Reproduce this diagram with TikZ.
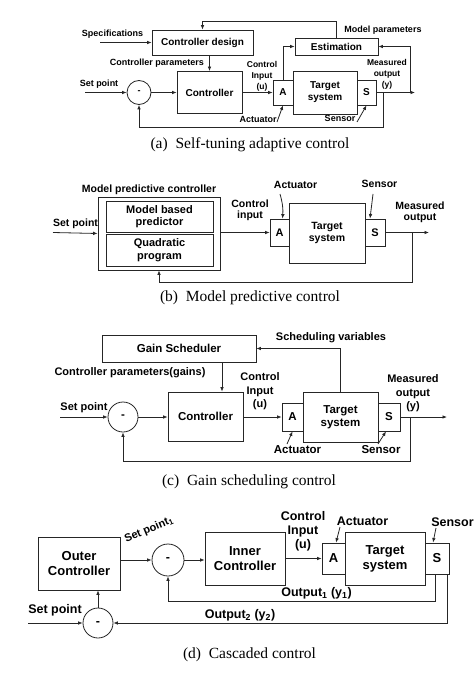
\documentclass[tikz,border=0pt]{standalone}
\usepackage{fontspec}
\setmainfont{Liberation Serif}
\newfontfamily\lab{Liberation Sans}
\usetikzlibrary{arrows.meta}
\begin{document}
\begin{tikzpicture}[x=1pt,y=-1pt, line width=0.8pt, draw=black!85,
  >={Latex[length=4.5pt,width=3.6pt]},
  box/.style={draw, rectangle, inner sep=0pt, align=center},
  sumc/.style={draw, circle, inner sep=0pt},
  lbl/.style={inner sep=0pt, align=center},
  captext/.style={inner sep=0pt, font=\fontsize{15.5}{18}\selectfont}]
\useasboundingbox[fill=white] (0,0) rectangle (474,679);

% ---------------- (a) ----------------
\begin{scope}[font=\lab\bfseries\fontsize{9}{10.5}\selectfont]
\node[box,minimum width=101pt,minimum height=25pt,font=\lab\bfseries\fontsize{10}{12}\selectfont] (cd) at (202.5,42.5) {Controller design};
\node[box,minimum width=83pt,minimum height=17pt,font=\lab\bfseries\fontsize{10}{12}\selectfont] (est) at (336.5,46.5) {Estimation};
\node[box,minimum width=65pt,minimum height=42pt,font=\lab\bfseries\fontsize{10}{12}\selectfont] (ctrl) at (209.5,92.5) {Controller};
\node[sumc,minimum size=24pt] (sum) at (139,92.5) {-};
\node[box,minimum width=20pt,minimum height=25pt,font=\lab\bfseries\fontsize{10}{12}\selectfont] (A) at (283,92.5) {A};
\node[box,minimum width=64pt,minimum height=43pt,font=\lab\bfseries\fontsize{10}{12}\selectfont] (T) at (325,92.5) {Target\\system};
\node[box,minimum width=19pt,minimum height=25pt,font=\lab\bfseries\fontsize{10}{12}\selectfont] (S) at (366.5,92.5) {S};

\node[lbl] (tspec) at (112.5,34) {Specifications};
\node[lbl] (tcp) at (157,63) {Controller parameters};
\node[lbl] (tsp) at (99,84) {Set point};
\node[lbl] (tmp) at (383,30) {Model parameters};
\node[lbl,font=\lab\bfseries\fontsize{8.5}{11}\selectfont] (tci) at (262,76) {Control\\Input\\(u)};
\node[lbl,font=\lab\bfseries\fontsize{8.5}{11}\selectfont] (tmo) at (387,74.5) {Measured\\output\\(y)};
\node[lbl] (tact) at (258,119) {Actuator};
\node[lbl] (tsen) at (340,118) {Sensor};

\coordinate (spec0) at (100,42.5);
\coordinate (sp0) at (85,92.5);
\coordinate (out) at (415,92.5);
\coordinate (ey) at (410,92.5);
\coordinate (fb) at (383,92.5);
\coordinate (aa0) at (277,122);
\coordinate (sa0) at (357,122);

\draw[->] (spec0) -- (cd.west);
\draw[->] (est.north) -- ++(0,-16) -| (cd.north);
\draw[->] (ctrl.north |- cd.south) -- (ctrl.north);
\draw[->] (sp0) -- (sum.west);
\draw[->] (sum.east) -- (ctrl.west);
\draw[->] (ctrl.east) -- (A.west);
\draw[->] (A.north) |- (est.west);
\draw[->] (S.east) -- (out);
\draw[->] (ey) |- (est.east);
\draw[->] (fb) -- ++(0,34.5) -| (sum.south);
\draw[->] (aa0) -- (A.south);
\draw[->] (sa0) -- (S.south);
\end{scope}
\node[captext] (capa) at (250,145) {(a)\ \ Self-tuning adaptive control};

% ---------------- (b) ----------------
\begin{scope}[font=\lab\bfseries\fontsize{10.5}{11.5}\selectfont]
\node[box,minimum width=122pt,minimum height=73pt] (mpc) at (159,233.5) {};
\node[box,minimum width=107pt,minimum height=31pt,font=\lab\bfseries\fontsize{11}{12.5}\selectfont] (mbp) at (159.5,216.5) {Model based\\predictor};
\node[box,minimum width=107pt,minimum height=32pt,font=\lab\bfseries\fontsize{11}{12.5}\selectfont] (qp) at (159.5,250) {Quadratic\\program};
\node[box,minimum width=19pt,minimum height=27pt,font=\lab\bfseries\fontsize{11}{12.5}\selectfont] (A2) at (279.5,232.5) {A};
\node[box,minimum width=76pt,minimum height=60pt] (T2) at (327,233) {Target\\system};
\node[box,minimum width=20pt,minimum height=27pt,font=\lab\bfseries\fontsize{11}{12.5}\selectfont] (S2) at (375,232.5) {S};

\node[lbl] (tmpc) at (149,190) {Model predictive controller};
\node[lbl] (tsp2) at (75.5,224) {Set point};
\node[lbl] (tci2) at (250,210.5) {Control\\input};
\node[lbl] (tmo2) at (420,212.5) {Measured\\output};
\node[lbl] (tact2) at (295.5,185) {Actuator};
\node[lbl] (tsen2) at (379.5,184) {Sensor};

\coordinate (sp2) at (53,232.5);
\coordinate (out2) at (429,232.5);
\coordinate (fb2) at (412,232.5);
\coordinate (aa2) at (280,194);
\coordinate (sa2) at (373,194);

\draw[->] (sp2) -- (mpc.west);
\draw[->] (mpc.east |- A2.west) -- (A2.west);
\draw[->] (S2.east) -- (out2);
\draw[->] (fb2) -- ++(0,49.5) -| (mpc.south);
\draw[->] (aa2) to[bend left=10] ([xshift=3pt]A2.north);
\draw[->] (sa2) -- ([xshift=-5pt]S2.north);
\end{scope}
\node[captext] (capb) at (250,298) {(b)\ \ Model predictive control};

% ---------------- (c) ----------------
\begin{scope}[font=\lab\bfseries\fontsize{11.5}{13}\selectfont]
\node[box,minimum width=154pt,minimum height=27pt] (gs) at (179,348.5) {Gain Scheduler};
\node[box,minimum width=75pt,minimum height=49pt] (ctrl3) at (205.5,416.5) {Controller};
\node[sumc,minimum size=30pt] (sum3) at (123,417) {-};
\node[box,minimum width=21pt,minimum height=28pt] (A3) at (292.5,417) {A};
\node[box,minimum width=75pt,minimum height=50pt] (T3) at (340.5,417) {Target\\system};
\node[box,minimum width=22pt,minimum height=28pt] (S3) at (389,417) {S};

\node[lbl,font=\lab\bfseries\fontsize{11}{13}\selectfont] (tcp3) at (130,373) {Controller parameters(gains)};
\node[lbl,font=\lab\bfseries\fontsize{11}{13}\selectfont] (tsv3) at (331,338) {Scheduling variables};
\node[lbl,font=\lab\bfseries\fontsize{11}{13}\selectfont] (tsp3) at (84,408) {Set point};
\node[lbl,font=\lab\bfseries\fontsize{11}{13.5}\selectfont] (tci3) at (260,391.5) {Control\\Input\\(u)};
\node[lbl,font=\lab\bfseries\fontsize{11}{13.5}\selectfont] (tmo3) at (413,393.5) {Measured\\output\\(y)};
\node[lbl] (tact3) at (297.5,450) {Actuator};
\node[lbl] (tsen3) at (381,450) {Sensor};

\coordinate (sp3) at (60,417);
\coordinate (out3) at (447,417);
\coordinate (fb3) at (410,417);
\coordinate (aa3) at (287,444);
\coordinate (sa3) at (378,444);

\draw[->] (T3.north) |- (gs.east);
\draw[->] ([xshift=16.5pt]ctrl3.north |- gs.south) -- ([xshift=16.5pt]ctrl3.north);
\draw[->] (sp3) -- (sum3.west);
\draw[->] (sum3.east) -- (ctrl3.west |- sum3.east);
\draw[->] (ctrl3.east |- A3.west) -- (A3.west);
\draw[->] (S3.east) -- (out3);
\draw[->] (fb3) -- ++(0,44) -| (sum3.south);
\draw[->] (aa3) -- (A3.south);
\draw[->] (sa3) -- ([xshift=-3pt]S3.south);
\end{scope}
\node[captext] (capc) at (249,482) {(c)\ \ Gain scheduling control};

% ---------------- (d) ----------------
\begin{scope}[font=\lab\bfseries\fontsize{12.5}{14}\selectfont]
\node[box,minimum width=82pt,minimum height=53pt,font=\lab\bfseries\fontsize{13}{15}\selectfont] (oc) at (79,563.5) {Outer\\Controller};
\node[sumc,minimum size=32pt] (sum2) at (168,560) {-};
\node[box,minimum width=80pt,minimum height=53pt,font=\lab\bfseries\fontsize{13}{15}\selectfont] (ic) at (245,558.5) {Inner\\Controller};
\node[sumc,minimum size=30pt] (sum1) at (98,623) {-};
\node[box,minimum width=23pt,minimum height=31pt,font=\lab\bfseries\fontsize{13}{15}\selectfont] (A4) at (333.5,558.5) {A};
\node[box,minimum width=80pt,minimum height=53pt,font=\lab\bfseries\fontsize{13}{15}\selectfont] (T4) at (385,558.5) {Target\\system};
\node[box,minimum width=24pt,minimum height=31pt,font=\lab\bfseries\fontsize{13}{15}\selectfont] (S4) at (437,558.5) {S};

\node[lbl,rotate=23,font=\lab\bfseries\fontsize{11}{13}\selectfont] (tsp1) at (149,530) {Set point\textsubscript{1}};
\node[lbl] (tsp0) at (55,610) {Set point};
\node[lbl,font=\lab\bfseries\fontsize{12.5}{14}\selectfont] (tci4) at (303,531) {Control\\Input\\(u)};
\node[lbl] (tact4) at (362.5,521) {Actuator};
\node[lbl] (tsen4) at (452.5,522) {Sensor};
\node[lbl] (to1) at (316.5,593) {Output\textsubscript{1} (y\textsubscript{1})};
\node[lbl] (to2) at (240,615) {Output\textsubscript{2} (y\textsubscript{2})};

\coordinate (sp4) at (28,623);
\coordinate (aa4) at (340,527);
\coordinate (sa4) at (436,528);

\draw[->] (oc.east |- sum2.west) -- (sum2.west);
\draw[->] (sum2.east) -- (ic.west |- sum2.east);
\draw[->] (ic.east |- A4.west) -- (A4.west);
\draw[->] (sum1.north) -- (sum1.north |- oc.south);
\draw[->] (sp4) -- (sum1.west);
\draw[->] ([xshift=-2pt]S4.south) -- ++(0,27) -| (sum2.south);
\draw[->] ([xshift=10pt]S4.south) |- (sum1.east);
\draw[->] (aa4) -- ([xshift=2.5pt]A4.north);
\draw[->] (sa4) -- ([xshift=-4pt]S4.north);
\end{scope}
\node[captext] (capd) at (249.5,655) {(d)\ \ Cascaded control};
\end{tikzpicture}
\end{document}
